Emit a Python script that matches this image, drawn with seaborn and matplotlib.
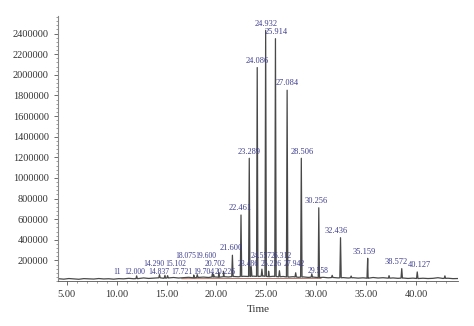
import numpy as np
import pandas as pd
import matplotlib
matplotlib.use("Agg")
import matplotlib.pyplot as plt
import seaborn as sns

# ---------------- data ----------------
# coarse baseline (every 0.5 min from 4.2 to 44.2)
base_values = [22000, 18000, 24000, 20000, 17000, 23000, 21000, 19000, 24000, 20000,
               22000, 18000, 23000, 21000, 26000, 22000, 24000, 30000, 25000, 28000,
               32000, 27000, 30000, 34000, 29000, 33000, 36000, 31000, 35000, 38000,
               34000, 40000, 37000, 42000, 39000, 44000, 41000, 46000, 43000, 47000,
               44000, 48000, 42000, 46000, 41000, 44000, 38000, 42000, 36000, 40000,
               35000, 38000, 33000, 36000, 31000, 34000, 30000, 33000, 29000, 32000,
               28000, 31000, 27000, 34000, 29000, 32000, 27000, 30000, 26000, 29000,
               25000, 28000, 24000, 27000, 24000, 26000, 32000, 25000, 27000, 23000, 24000]

peak_times = [12.000, 14.290, 14.837, 15.102, 17.721, 18.075, 19.600, 19.704, 20.226,
              20.702, 21.600, 22.461, 23.289, 23.486, 24.086, 24.557, 24.932, 25.226,
              25.914, 26.312, 27.084, 27.942, 28.506, 29.558, 30.256, 31.600, 32.436,
              33.500, 35.159, 37.300, 38.572, 40.127, 42.900]
peak_heights = [50000, 62000, 55000, 52000, 58000, 62000, 72000, 64000, 85000,
                95000, 250000, 640000, 1190000, 140000, 2070000, 115000, 2430000, 95000,
                2350000, 100000, 1850000, 80000, 1190000, 70000, 710000, 55000, 420000,
                48000, 220000, 52000, 120000, 88000, 50000]

major_labels = ["21.600", "22.461", "23.289", "24.086", "24.932", "25.914",
                "27.084", "28.506", "30.256", "32.436", "35.159", "38.572", "40.127"]
major_peak_t = [21.600, 22.461, 23.289, 24.086, 24.932, 25.914,
                27.084, 28.506, 30.256, 32.436, 35.159, 38.572, 40.127]
major_label_x = [21.5, 22.4, 23.3, 24.05, 24.932, 25.95,
                 27.1, 28.55, 30.0, 32.0, 34.8, 38.0, 40.3]

minor_labels = ["11", "12.000", "14.837", "17.721", "19.704", "20.226",
                "14.290", "15.102", "20.702", "23.486", "25.226", "27.942", "29.558",
                "18.075", "19.600", "24.557", "26.312"]
minor_label_t = [10.0, 11.8, 14.2, 16.5, 18.7, 20.9,
                 13.7, 15.9, 19.9, 23.2, 25.5, 27.8, 30.2,
                 16.9, 18.9, 24.5, 26.5]
minor_label_v = [45000, 45000, 45000, 45000, 45000, 45000,
                 125000, 125000, 125000, 125000, 125000, 125000, 60000,
                 205000, 205000, 205000, 205000]

yticks = [200000, 400000, 600000, 800000, 1000000, 1200000, 1400000, 1600000,
          1800000, 2000000, 2200000, 2400000]
xticks = [5, 10, 15, 20, 25, 30, 35, 40]

# ---------------- build trace ----------------
base_t = np.arange(4.2, 44.21, 0.5)[:len(base_values)]
pt = np.array(peak_times)
pb = np.interp(pt, base_t, base_values)
ts = np.concatenate([base_t, pt - 0.07, pt, pt + 0.07])
vs = np.concatenate([base_values, pb, peak_heights, pb])
df = pd.DataFrame({"Time": ts, "Signal": vs}).sort_values("Time")

# ---------------- plot ----------------
sns.set_style("white")
plt.rcParams["font.family"] = ["Liberation Serif", "DejaVu Serif"]

fig = plt.figure(figsize=(4.74, 3.26), dpi=100)
ax = fig.add_axes([0.122, 0.138, 0.844, 0.813])

sns.lineplot(data=df, x="Time", y="Signal", estimator=None, sort=True,
             color="#484848", linewidth=0.9, ax=ax)
# integration baseline (reddish)
ax.plot([16.5, 30.5], [22000, 26000], color="#b06050", linewidth=0.6, zorder=1)

lab_color = "#3d3d8f"
height_of = dict(zip(peak_times, peak_heights))
for txt, t, lx in zip(major_labels, major_peak_t, major_label_x):
    ax.annotate(txt, (lx, height_of[t]), xytext=(0, 2), textcoords="offset points",
                ha="center", va="bottom", fontsize=6, color=lab_color)
for txt, t, v in zip(minor_labels, minor_label_t, minor_label_v):
    ax.text(t, v, txt, ha="center", va="bottom", fontsize=5.5, color=lab_color)

ax.set_xlim(4.1, 44.2)
ax.set_ylim(0, 2570000)
ax.set_xticks(xticks)
ax.set_xticklabels([f"{x:.2f}" for x in xticks])
ax.set_xticks(np.arange(5, 44, 1), minor=True)
ax.set_yticks(yticks)
ax.set_yticklabels([str(y) for y in yticks])
ax.set_yticks(np.arange(0, 2570000, 40000), minor=True)
ax.tick_params(axis="both", which="major", labelsize=7.5, labelcolor="#333333",
               length=3, width=0.6, color="#555555", direction="out",
               bottom=True, left=True)
ax.tick_params(axis="both", which="minor", length=1.5, width=0.5, color="#777777",
               direction="out", bottom=True, left=True)
ax.set_xlabel("Time", fontsize=8, color="#333333", labelpad=4)
ax.set_ylabel("")

for s in ["top", "right"]:
    ax.spines[s].set_visible(False)
ax.spines["left"].set_color("#888888")
ax.spines["left"].set_linewidth(0.8)
ax.spines["bottom"].set_color("#555555")
ax.spines["bottom"].set_linewidth(0.6)

fig.savefig("out.png", dpi=100)
